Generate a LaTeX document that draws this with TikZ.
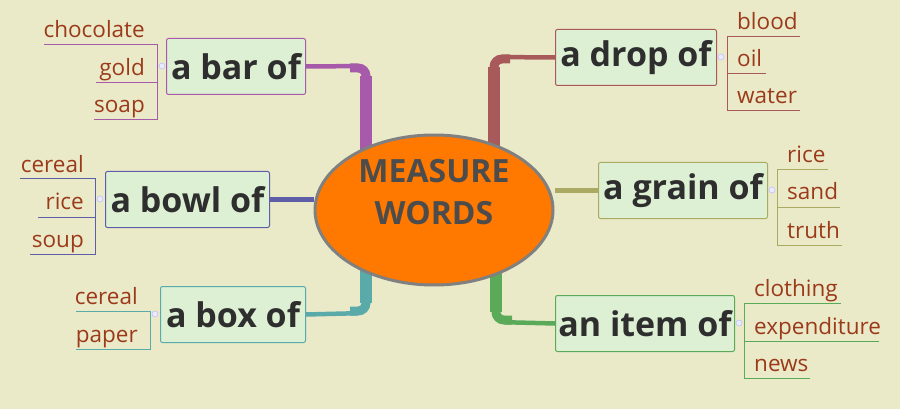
\documentclass[tikz,border=0pt]{standalone}
\usepackage{fontspec}
\setmainfont{Open Sans}
\usetikzlibrary{shapes.geometric}
\definecolor{bg}{HTML}{EAEAC8}
\definecolor{boxfill}{HTML}{DDF0D4}
\definecolor{leaftxt}{HTML}{9B3A1A}
\definecolor{cbar}{HTML}{A85AAA}
\definecolor{cbowl}{HTML}{5D5DA8}
\definecolor{cbox}{HTML}{5AAAAA}
\definecolor{cdrop}{HTML}{A85A5A}
\definecolor{cgrain}{HTML}{AAAA62}
\definecolor{citem}{HTML}{5AAA5A}
\tikzset{
 branch/.style={draw=#1,fill=boxfill,rounded corners=2pt,line width=1pt,inner sep=0pt,anchor=north west,font=\bfseries\fontsize{34}{36}\selectfont,text=black!82},
 leaftext/.style={text=leaftxt,font=\fontsize{22.5}{24}\selectfont,inner sep=1pt},
 leafline/.style={draw=#1,line width=1pt},
 trunk/.style={draw=#1,line width=12pt},
 thin/.style={draw=#1,line width=4.5pt,rounded corners=10pt},
 knob/.style={circle,draw=blue!25,fill=blue!8,inner sep=0pt,minimum size=6pt,line width=0.6pt},
}
\newcommand{\bx}[5]{\node[branch=#2,minimum width=#4pt,minimum height=56pt] (#1) at (#3) {#5};}
\begin{document}
\begin{tikzpicture}[x=1pt,y=-1pt]
\fill[bg] (0,0) rectangle (900,409);
\useasboundingbox (0,0) rectangle (900,409);
% branch boxes
\bx{bar}{cbar}{166,38}{139}{a bar of}
\bx{bowl}{cbowl}{105,171}{164}{a bowl of}
\bx{box}{cbox}{160,286}{145}{a box of}
\bx{drop}{cdrop}{555,29}{161}{a drop of}
\bx{grain}{cgrain}{598,162}{169}{a grain of}
\bx{item}{citem}{555,295}{179}{an item of}
% connectors
\coordinate (barS) at (366,150);
\draw[thin=cbar] (barS) -- (366,66) -- (bar.east);
\draw[trunk=cbar] (barS) -- (366,76);
\draw[thin=cbar,line width=9pt,rounded corners=8pt] (366,80) -- (366,68) -- (350,68);
\coordinate (boxS) at (366,230);
\draw[thin=cbox] (boxS) -- (366,313) -- (box.east);
\draw[trunk=cbox] (boxS) -- (366,303);
\draw[thin=cbox,line width=9pt,rounded corners=8pt] (366,300) -- (366,311) -- (350,311);
\coordinate (dropS) at (494,150);
\draw[thin=cdrop] (dropS) -- (494,57) -- (drop.west);
\draw[trunk=cdrop] (dropS) -- (494,67);
\draw[thin=cdrop,line width=9pt,rounded corners=8pt] (494,70) -- (494,59) -- (510,59);
\coordinate (itemS) at (496,230);
\draw[thin=citem] (itemS) -- (496,322) -- (item.west);
\draw[trunk=citem] (itemS) -- (496,312);
\draw[thin=citem,line width=9pt,rounded corners=8pt] (496,309) -- (496,320) -- (512,320);
% center
\node[ellipse,draw=gray,line width=3pt,fill=orange!95!red,minimum width=238pt,minimum height=150pt] (c) at (434,210) {};
\node[align=center,font=\bfseries\fontsize{32}{42}\selectfont,text=black!70] (ct) at (434,192) {MEASURE\\WORDS};
\draw[thin=cbowl] (bowl.east) -- (c.west |- bowl.east);
\draw[thin=cgrain] (grain.west) -- (c.east |- grain.west);
% leaves: bar
\coordinate (b1) at (44,45); \coordinate (b1e) at (157,45);
\coordinate (b2) at (96,83); \coordinate (b2e) at (157,83);
\coordinate (b3) at (94,120); \coordinate (b3e) at (157,120);
\draw[leafline=cbar] (b1) -- (b1e) -- (b3e) -- (b3);
\draw[leafline=cbar] (b2) -- (b2e);
\node[leaftext,anchor=base east] (l1) at (146,38) {chocolate};
\node[leaftext,anchor=base east] (l2) at (146,76) {gold};
\node[leaftext,anchor=base east] (l3) at (146,113) {soap};
\node[knob] (k1) at (162,66) {};
% bowl
\coordinate (w1) at (20,179); \coordinate (w1e) at (95,179);
\coordinate (w2) at (38,217); \coordinate (w2e) at (95,217);
\coordinate (w3) at (30,254); \coordinate (w3e) at (95,254);
\draw[leafline=cbowl] (w1) -- (w1e) -- (w3e) -- (w3);
\draw[leafline=cbowl] (w2) -- (w2e);
\node[leaftext,anchor=base east] (l4) at (85,172) {cereal};
\node[leaftext,anchor=base east] (l5) at (85,210) {rice};
\node[leaftext,anchor=base east] (l6) at (85,247) {soup};
\node[knob] (k2) at (100,199) {};
% box
\coordinate (x1) at (76,311); \coordinate (x1e) at (150,311);
\coordinate (x2) at (76,349); \coordinate (x2e) at (150,349);
\draw[leafline=cbox] (x1) -- (x1e) -- (x2e) -- (x2);
\node[leaftext,anchor=base east] (l7) at (139,304) {cereal};
\node[leaftext,anchor=base east] (l8) at (139,342) {paper};
\node[knob] (k3) at (155,314) {};
% drop
\coordinate (d1) at (727,37); \coordinate (d1e) at (800,37);
\coordinate (d2) at (727,74); \coordinate (d2e) at (766,74);
\coordinate (d3) at (727,111); \coordinate (d3e) at (800,111);
\draw[leafline=cdrop] (d1e) -- (d1) -- (d3) -- (d3e);
\draw[leafline=cdrop] (d2) -- (d2e);
\node[leaftext,anchor=base west] (l9) at (736,30) {blood};
\node[leaftext,anchor=base west] (l10) at (736,67) {oil};
\node[leaftext,anchor=base west] (l11) at (736,104) {water};
\node[knob] (k4) at (721,57) {};
% grain
\coordinate (g1) at (777,170); \coordinate (g1e) at (828,170);
\coordinate (g2) at (777,207); \coordinate (g2e) at (840,207);
\coordinate (g3) at (777,245); \coordinate (g3e) at (842,245);
\draw[leafline=cgrain] (g1e) -- (g1) -- (g3) -- (g3e);
\draw[leafline=cgrain] (g2) -- (g2e);
\node[leaftext,anchor=base west] (l12) at (786,163) {rice};
\node[leaftext,anchor=base west] (l13) at (786,200) {sand};
\node[leaftext,anchor=base west] (l14) at (786,238) {truth};
\node[knob] (k5) at (772,190) {};
% item
\coordinate (i1) at (744,303); \coordinate (i1e) at (841,303);
\coordinate (i2) at (744,341); \coordinate (i2e) at (879,341);
\coordinate (i3) at (744,378); \coordinate (i3e) at (810,378);
\draw[leafline=citem] (i1e) -- (i1) -- (i3) -- (i3e);
\draw[leafline=citem] (i2) -- (i2e);
\node[leaftext,anchor=base west] (l15) at (753,296) {clothing};
\node[leaftext,anchor=base west] (l16) at (753,334) {expenditure};
\node[leaftext,anchor=base west] (l17) at (753,371) {news};
\node[knob] (k6) at (739,323) {};
\end{tikzpicture}
\end{document}
